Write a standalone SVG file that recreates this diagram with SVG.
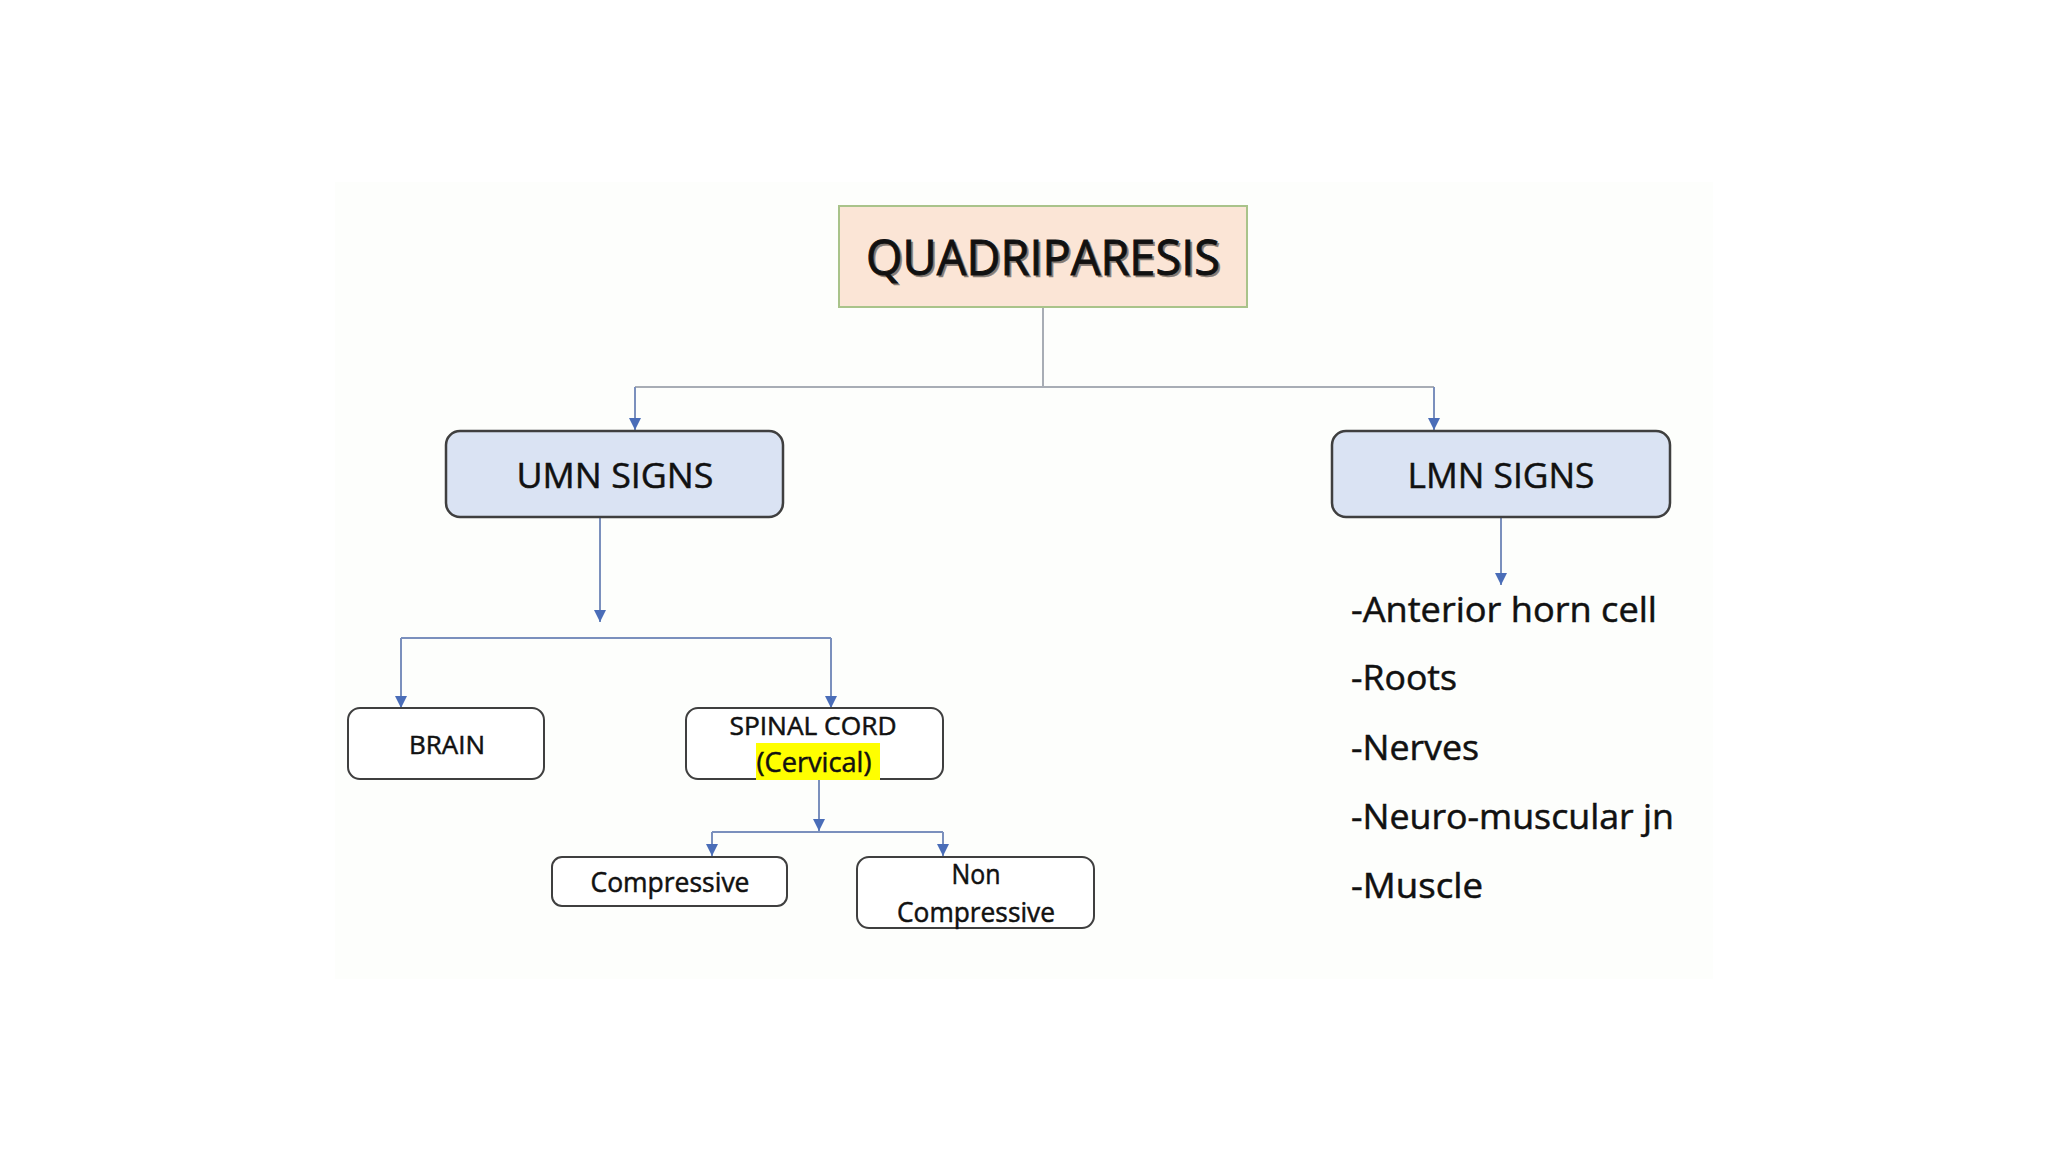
<svg xmlns="http://www.w3.org/2000/svg" width="2048" height="1152" viewBox="0 0 2048 1152">
<defs>
<style>
.t{font-family:"Open Sans",Lato,"Liberation Sans",sans-serif;fill:#111111;stroke:#111111;stroke-width:0.5;text-anchor:middle}
.l{font-family:"Open Sans",Lato,"Liberation Sans",sans-serif;fill:#111111;stroke:#111111;stroke-width:0.5;font-size:34px}
.box{fill:#ffffff;stroke:#3f3f3f;stroke-width:2}
.sig{fill:#dae3f3;stroke:#3f3f3f;stroke-width:2.5}
.c1{fill:none;stroke:#a8adb5;stroke-width:2}
.c2{fill:none;stroke:#7b90bd;stroke-width:2}
</style>
<marker id="ad" markerUnits="userSpaceOnUse" markerWidth="12" markerHeight="12" viewBox="0 0 12 12" refX="12" refY="6" orient="auto">
<path d="M0,0 L12,6 L0,12 Z" fill="#4a6db8"/>
</marker>
</defs>
<rect x="0" y="0" width="2048" height="1152" fill="#ffffff"/>
<rect x="335" y="182" width="1378" height="797" fill="#fdfefc"/>

<g id="connectors">
<path class="c1" d="M1043,307 V387"/>
<path class="c1" d="M635,387 H1434"/>
<path class="c2" d="M635,387 V430" marker-end="url(#ad)"/>
<path class="c2" d="M1434,387 V430" marker-end="url(#ad)"/>
<path class="c2" d="M600,517 V622" marker-end="url(#ad)"/>
<path class="c2" d="M401,638 H831"/>
<path class="c2" d="M401,638 V708" marker-end="url(#ad)"/>
<path class="c2" d="M831,638 V708" marker-end="url(#ad)"/>
<path class="c2" d="M819,780 V831" marker-end="url(#ad)"/>
<path class="c2" d="M712,832 H943"/>
<path class="c2" d="M712,832 V856" marker-end="url(#ad)"/>
<path class="c2" d="M943,832 V856" marker-end="url(#ad)"/>
<path class="c2" d="M1501,517 V585" marker-end="url(#ad)"/>
</g>

<g id="quadriparesis">
<rect x="839" y="206" width="408" height="101" fill="#fbe5d6" stroke="#a9c38a" stroke-width="2"/>
<text class="t" x="1045" y="277" font-size="49" textLength="354" lengthAdjust="spacingAndGlyphs" fill="#b0a8a0" stroke="none" opacity="0.5">QUADRIPARESIS</text>
<text class="t" x="1043" y="275" font-size="49" textLength="354" lengthAdjust="spacingAndGlyphs" style="stroke-width:0.9">QUADRIPARESIS</text>
</g>

<g id="umn">
<rect class="sig" x="446" y="431" width="337" height="86" rx="14"/>
<text class="t" x="615" y="488" font-size="35" textLength="197" lengthAdjust="spacingAndGlyphs">UMN SIGNS</text>
</g>

<g id="lmn">
<rect class="sig" x="1332" y="431" width="338" height="86" rx="14"/>
<text class="t" x="1501" y="488" font-size="35" textLength="187" lengthAdjust="spacingAndGlyphs">LMN SIGNS</text>
</g>

<g id="brain">
<rect class="box" x="348" y="708" width="196" height="71" rx="12"/>
<text class="t" x="447" y="754" font-size="26" textLength="76" lengthAdjust="spacingAndGlyphs">BRAIN</text>
</g>

<g id="spinal-cord">
<rect class="box" x="686" y="708" width="257" height="71" rx="12"/>
<rect x="756" y="743" width="124" height="37" fill="#ffff00"/>
<text class="t" x="813" y="735" font-size="25" textLength="167" lengthAdjust="spacingAndGlyphs">SPINAL CORD</text>
<text class="t" x="814" y="772" font-size="27" textLength="115" lengthAdjust="spacingAndGlyphs">(Cervical)</text>
</g>

<g id="compressive">
<rect class="box" x="552" y="857" width="235" height="49" rx="10"/>
<text class="t" x="670" y="892" font-size="27" textLength="159" lengthAdjust="spacingAndGlyphs">Compressive</text>
</g>

<g id="non-compressive">
<rect class="box" x="857" y="857" width="237" height="71" rx="12"/>
<text class="t" x="976" y="884" font-size="27" textLength="49" lengthAdjust="spacingAndGlyphs">Non</text>
<text class="t" x="976" y="922" font-size="27" textLength="158" lengthAdjust="spacingAndGlyphs">Compressive</text>
</g>

<g id="lmn-list">
<text class="l" x="1351" y="622" textLength="306" lengthAdjust="spacingAndGlyphs">-Anterior horn cell</text>
<text class="l" x="1351" y="690" textLength="106" lengthAdjust="spacingAndGlyphs">-Roots</text>
<text class="l" x="1351" y="760" textLength="128" lengthAdjust="spacingAndGlyphs">-Nerves</text>
<text class="l" x="1351" y="829" textLength="323" lengthAdjust="spacingAndGlyphs">-Neuro-muscular jn</text>
<text class="l" x="1351" y="898" textLength="132" lengthAdjust="spacingAndGlyphs">-Muscle</text>
</g>
</svg>
